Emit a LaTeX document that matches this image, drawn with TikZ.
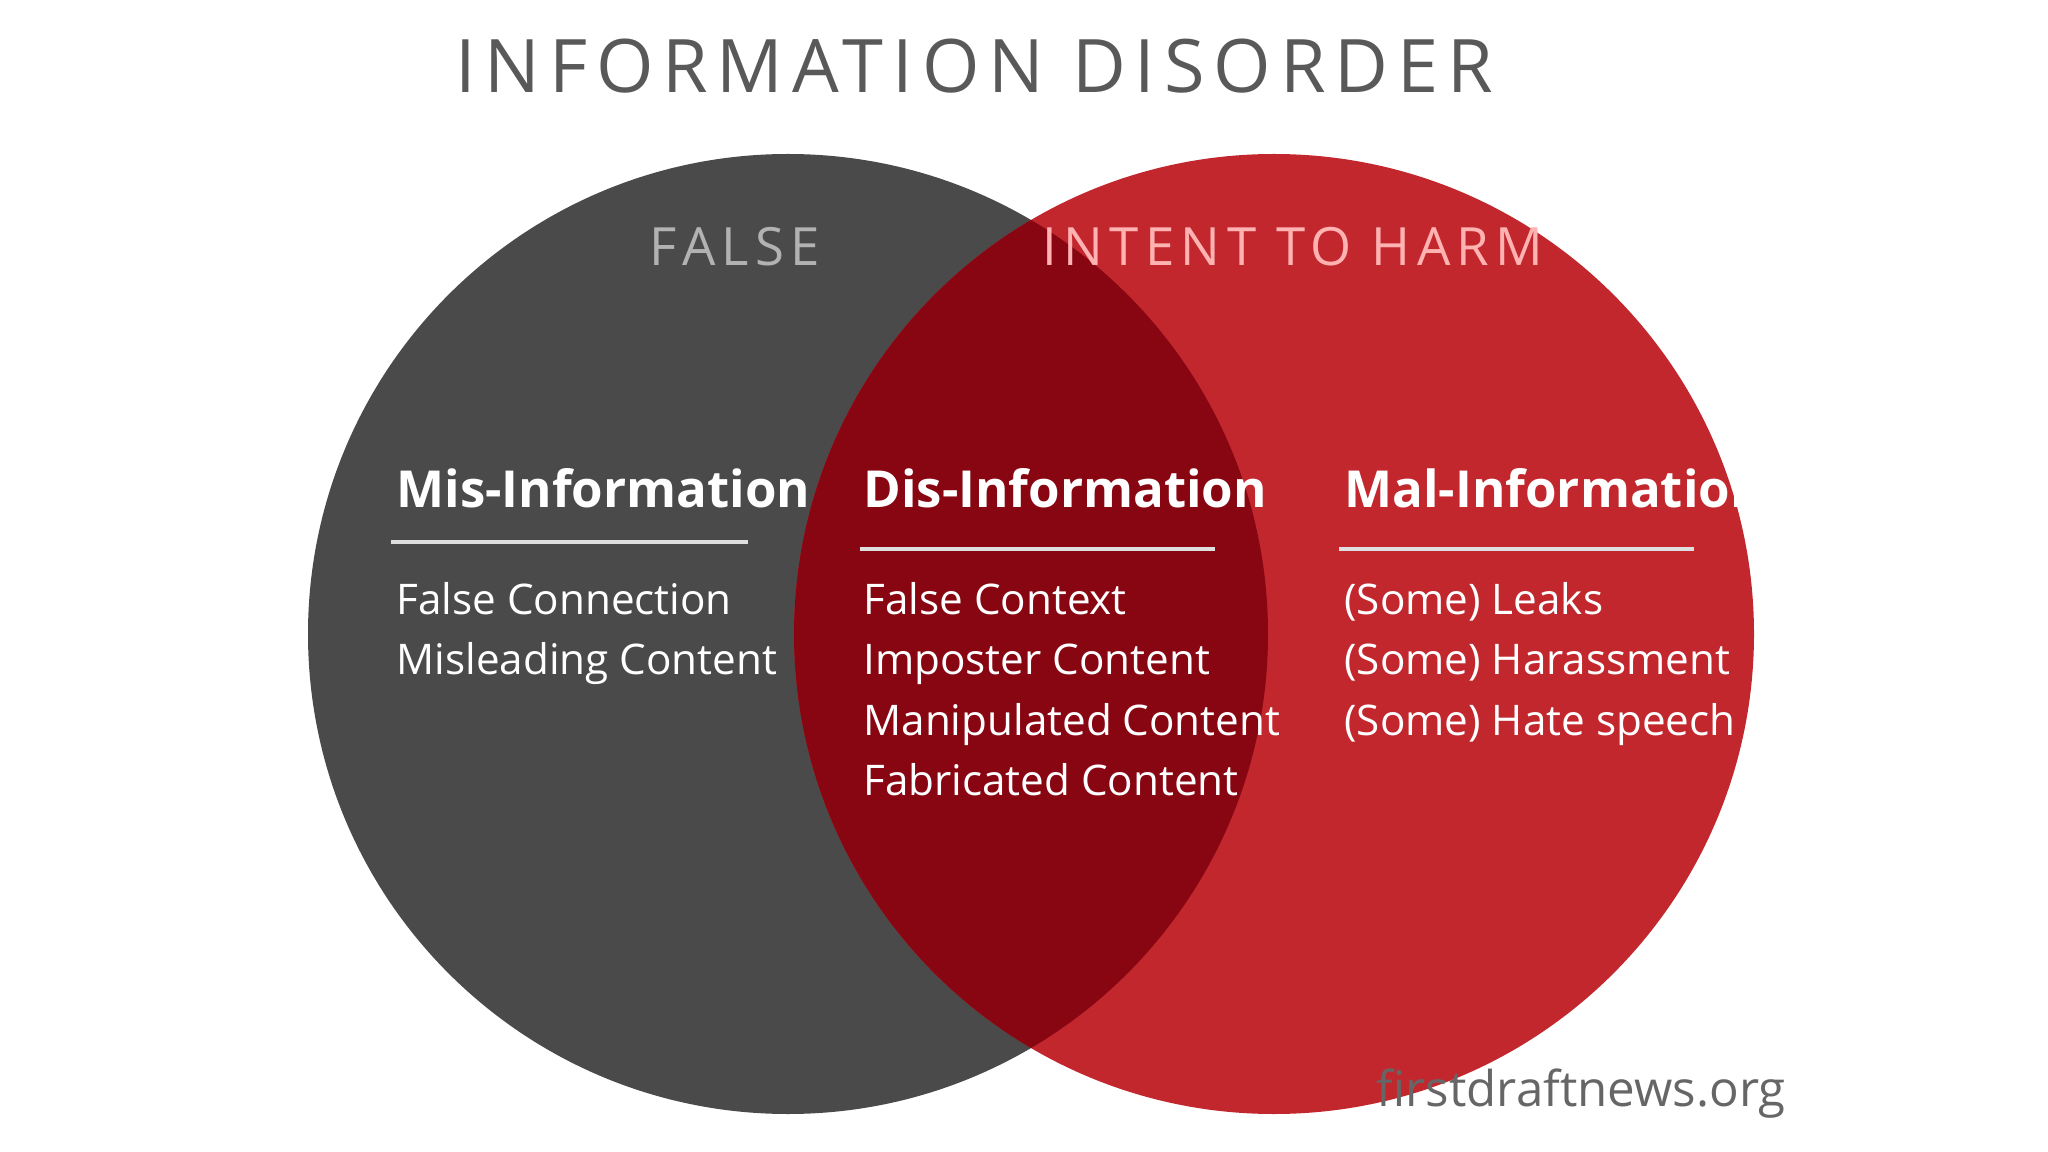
\documentclass[tikz,border=0pt]{standalone}
\usepackage{fontspec}
\setmainfont{Open Sans}
\definecolor{cgray}{HTML}{4A4A4A}
\definecolor{cred}{HTML}{C1272D}
\definecolor{cdark}{HTML}{870612}
\begin{document}
\begin{tikzpicture}[x=0.01cm,y=-0.01cm,
  head/.style={anchor=base west,text=white,font=\fontsize{14.5}{17}\selectfont\bfseries},
  item/.style={anchor=base west,text=white,align=left,font=\fontsize{12}{17.2}\selectfont},
  rule/.style={draw=white!75!gray,line width=1pt}]
\useasboundingbox (0,0) rectangle (2048,1152);
\fill[cgray] (788,634) circle (480);
\fill[cred] (1274,634) circle (480);
\begin{scope}
\clip (788,634) circle (480);
\fill[cdark] (1274,634) circle (480);
\end{scope}
\node[text=black!65,font=\fontsize{21}{24}\selectfont\addfontfeature{LetterSpace=12}] (title) at (974,66) {INFORMATION DISORDER};
\node[text=black!30,font=\fontsize{15}{18}\selectfont\addfontfeature{LetterSpace=12}] (false) at (735,247) {FALSE};
\node[text=red!30,font=\fontsize{15}{18}\selectfont\addfontfeature{LetterSpace=12}] (harm) at (1293,247) {INTENT TO HARM};
\node[head] (mis) at (384,508) {Mis-Information};
\node[head] (dis) at (851,508) {Dis-Information};
\node[head] (mal) at (1332,508) {Mal-Information};
\coordinate (m1) at (391,542); \coordinate (m2) at (748,542);
\coordinate (d1) at (860,549); \coordinate (d2) at (1215,549);
\coordinate (l1) at (1339,549); \coordinate (l2) at (1694,549);
\draw[rule] (m1) -- (m2);
\draw[rule] (d1) -- (d2);
\draw[rule] (l1) -- (l2);
\node[item,anchor=north west] (misl) at (384,570) {False Connection\\Misleading Content};
\node[item,anchor=north west] (disl) at (851,570) {False Context\\Imposter Content\\Manipulated Content\\Fabricated Content};
\node[item,anchor=north west] (mall) at (1332,570) {(Some) Leaks\\(Some) Harassment\\(Some) Hate speech};
\node[anchor=base east,text=black!60,font=\fontsize{14}{17}\selectfont] (src) at (1798,1106) {firstdraftnews.org};
\end{tikzpicture}
\end{document}
